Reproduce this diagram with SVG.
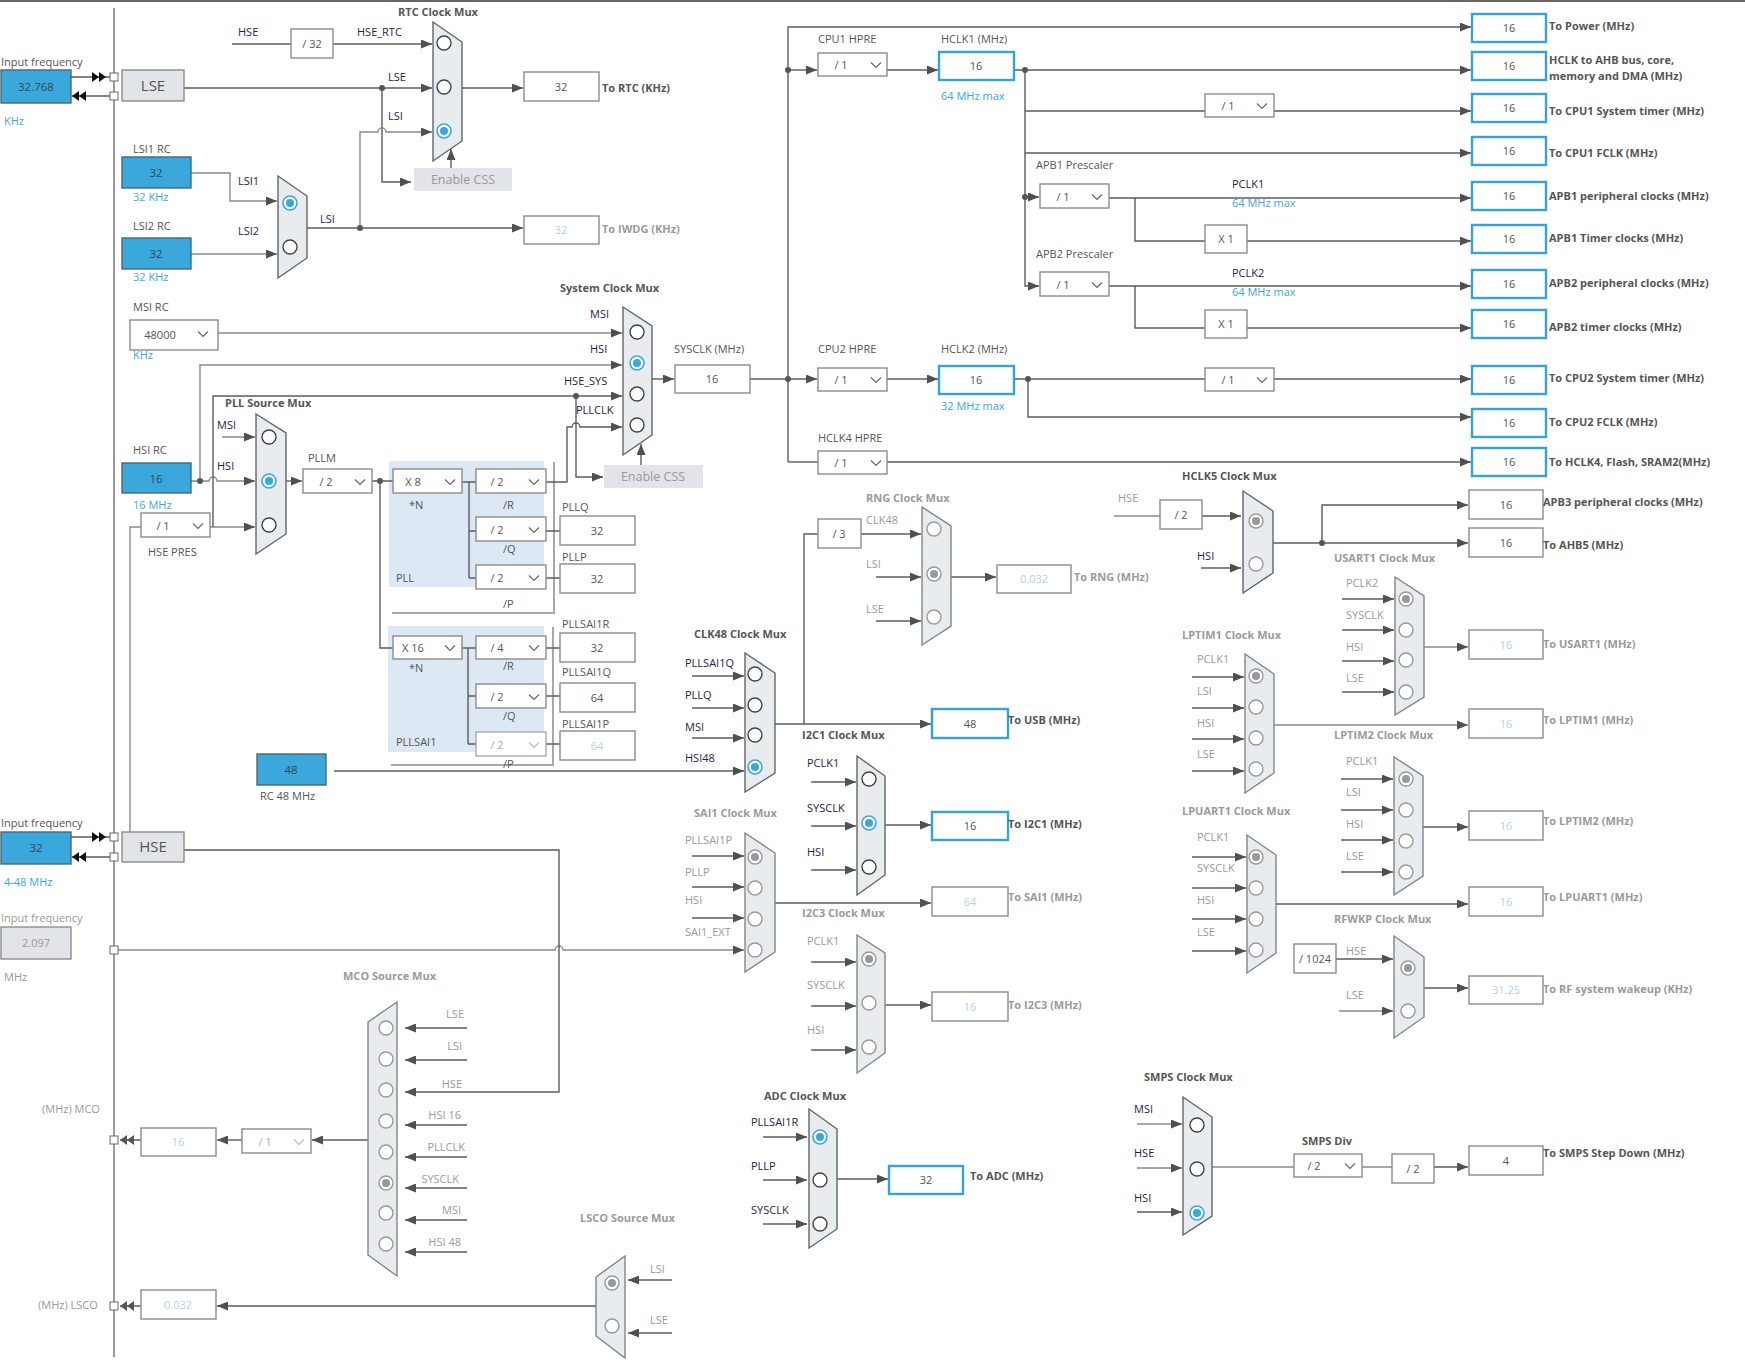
<svg xmlns="http://www.w3.org/2000/svg" width="1745" height="1362" viewBox="0 0 1745 1362" font-family="'Open Sans','Noto Sans',sans-serif">
<style>
.c{fill:none;stroke:#5c5c5c;stroke-width:1.4}
.cl{fill:none;stroke:#8a8a8a;stroke-width:1.4}
.a{marker-end:url(#a)}
.mux{fill:#e9ecef;stroke:#5d6770;stroke-width:1.4}
.muxg{fill:#e9ecef;stroke:#7d8790;stroke-width:1.4}
.bx{fill:#fff;stroke:#8c8c8c;stroke-width:1.4}
.ob{fill:#fff;stroke:#35a3d8;stroke-width:2.4}
.bi{fill:#3aa8db;stroke:#4d6577;stroke-width:1.4}
.gb{fill:#e1e4e8;stroke:#8c8c8c;stroke-width:1.4}
.css{fill:#e1e4e8}
.pll{fill:#dce9f5}
.fr{fill:none;stroke:#a8a8a8;stroke-width:2}
text{font-size:11px}
.t{fill:#555}
.n{fill:#1c2541}
.g{fill:#9a9a9a}
.b{fill:#3aa8db}
.h{fill:#555;font-weight:bold}
.hg{fill:#9a9a9a;font-weight:bold}
.v{fill:#555;text-anchor:middle}
.vf{fill:#b6d0e8;text-anchor:middle}
.vi{fill:#33495a;text-anchor:middle;font-size:11.5px}
.big{fill:#555;font-size:15px;text-anchor:middle}
.cs{fill:#9a9a9a;font-size:12.5px;text-anchor:middle}
.e{text-anchor:end}
.dot{fill:#555}
.pa{fill:#111}
</style>
<defs>
<marker id="a" markerWidth="11" markerHeight="9" refX="11" refY="4.5" orient="auto" markerUnits="userSpaceOnUse"><path d="M0,0L11,4.5L0,9z" fill="#505050"/></marker>
<circle id="r0" r="7" fill="#fff" stroke="#444" stroke-width="1.4"/>
<circle id="r1" r="7" fill="#fff" stroke="#999" stroke-width="1.4"/>
<g id="rb"><circle r="7" fill="#fff" stroke="#3aa8db" stroke-width="1.6"/><circle r="4" fill="#3aa8db"/></g>
<g id="rg"><circle r="7" fill="#fff" stroke="#999" stroke-width="1.4"/><circle r="4" fill="#999"/></g>
<path id="ch" d="M-5,-2.5L0,2.5L5,-2.5" fill="none" stroke="#666" stroke-width="1.2"/>
<path id="chf" d="M-5,-2.5L0,2.5L5,-2.5" fill="none" stroke="#bbb" stroke-width="1.2"/>
</defs>
<rect width="1745" height="1362" fill="#fff"/>
<path d="M0,1H1745" stroke="#666" stroke-width="2"/>
<path d="M114,8V1357" stroke="#9a9a9a" stroke-width="2"/>

<g id="pll-areas">
<rect class="pll" x="389" y="461" width="155" height="126"/>
<path class="fr" d="M554,462V613H392"/>
<rect class="pll" x="388" y="626" width="156" height="126"/>
<path class="fr" d="M553,627V765H391"/>
</g>

<g id="connectors">
<path class="c" d="M71,77H110M72,96H110M141,1140H120M141,1306H120"/>
<polygon class="pa" points="92,72 99,77 92,82"/><polygon class="pa" points="99,72 106,77 99,82"/>
<polygon class="pa" points="86,91 79,96 86,101"/><polygon class="pa" points="79,91 72,96 79,101"/>
<path class="c" d="M71,837H110M72,857H110"/>
<polygon class="pa" points="92,832 99,837 92,842"/><polygon class="pa" points="99,832 106,837 99,842"/>
<polygon class="pa" points="86,852 79,857 86,862"/><polygon class="pa" points="79,852 72,857 79,862"/>
<polygon fill="#555" points="127,1135 120,1140 127,1145"/><polygon fill="#555" points="134,1135 127,1140 134,1145"/>
<polygon fill="#555" points="127,1301 120,1306 127,1311"/><polygon fill="#555" points="134,1301 127,1306 134,1311"/>
<path class="c" d="M232,44H291"/>
<path class="c a" d="M333,44H432"/>
<path class="c a" d="M184,88H432"/>
<path class="c a" d="M382,88V182H411"/>
<path class="cl a" d="M360,228V132H378a4,4 0 0 1 8,0H432"/>
<path class="c a" d="M462,88H523"/>
<path class="cl a" d="M191,173H230V201H277"/>
<path class="cl a" d="M191,254H277"/>
<path class="c a" d="M307,228H523"/>
<path class="c a" d="M451,168V149"/>
<path class="cl a" d="M218,333H622"/>
<path class="cl a" d="M200,481V365H622"/>
<path class="cl a" d="M191,481H209a4,4 0 0 1 8,0H255"/>
<path class="cl a" d="M222,437H255"/>
<path class="cl" d="M130,832V527H141"/>
<path class="cl a" d="M210,527H255"/>
<path class="c a" d="M213,527V396H622"/>
<path class="c a" d="M576,396V477H603"/>
<path class="c a" d="M286,481H302"/>
<path class="c" d="M372,481H393M380,481V648H393"/>
<path class="c" d="M462,482H469V578M469,482H476M469,531H476M469,578H476"/>
<path class="c a" d="M546,482H567V427H572a4,4 0 0 1 8,0H622"/>
<path class="c" d="M546,531H560M546,578H560"/>
<path class="c" d="M462,648H476M468,648V744M468,696H476M468,744H476"/>
<path class="c" d="M546,648H560M546,696H560M546,744H560"/>
<path class="c a" d="M641,465V444"/>
<path class="c a" d="M652,379H674"/>
<path class="c a" d="M750,379H817"/>
<path class="c a" d="M788,462V27H1471"/>
<path class="c" d="M788,462H818"/>
<path class="c a" d="M788,70H817"/>
<path class="c a" d="M887,70H938"/>
<path class="c a" d="M887,379H938"/>
<path class="c a" d="M1014,70H1471"/>
<path class="c a" d="M1025,70V286H1039"/>
<path class="c" d="M1025,111H1205"/>
<path class="c a" d="M1274,111H1471"/>
<path class="c a" d="M1025,153H1471"/>
<path class="c a" d="M1025,197H1039"/>
<path class="c a" d="M1109,198H1471"/>
<path class="c" d="M1135,198V241H1205"/>
<path class="c a" d="M1247,241H1471"/>
<path class="c a" d="M1109,286H1471"/>
<path class="c" d="M1135,286V328H1205"/>
<path class="c a" d="M1247,328H1471"/>
<path class="c" d="M1014,379H1205"/>
<path class="c a" d="M1274,379H1471"/>
<path class="c a" d="M1028,379V417H1471"/>
<path class="c a" d="M887,462H1471"/>
<path class="c a" d="M334,771H744"/>
<path class="c a" d="M692,676H744"/>
<path class="c a" d="M692,708H744"/>
<path class="c a" d="M692,738H744"/>
<path class="c a" d="M775,724H931"/>
<path class="c" d="M804,724V534H818"/>
<path class="c a" d="M861,534H921"/>
<path class="c a" d="M876,577H921"/>
<path class="c a" d="M876,621H921"/>
<path class="c a" d="M951,577H996"/>
<path class="c a" d="M811,782H856"/>
<path class="c a" d="M811,826H856"/>
<path class="c a" d="M811,870H856"/>
<path class="c a" d="M885,825H931"/>
<path class="c a" d="M692,856H744"/>
<path class="c a" d="M692,887H744"/>
<path class="c a" d="M692,918H744"/>
<path class="cl a" d="M118,950H555a4,4 0 0 1 8,0H744"/>
<path class="c a" d="M775,903H931"/>
<path class="c a" d="M811,962H856"/>
<path class="c a" d="M811,1006H856"/>
<path class="c a" d="M811,1050H856"/>
<path class="c a" d="M885,1005H931"/>
<path class="c a" d="M184,850H559V1092H405"/>
<path class="c a" d="M467,1028H405"/>
<path class="c a" d="M467,1060H405"/>
<path class="c a" d="M467,1125H405"/>
<path class="c a" d="M467,1157H405"/>
<path class="c a" d="M467,1188H405"/>
<path class="c a" d="M467,1220H405"/>
<path class="c a" d="M467,1252H405"/>
<path class="c a" d="M368,1140H312"/>
<path class="c a" d="M242,1140H217"/>
<path class="c a" d="M672,1280H628"/>
<path class="c a" d="M672,1333H628"/>
<path class="c a" d="M596,1306H217"/>
<path class="c a" d="M763,1137H807"/>
<path class="c a" d="M763,1180H807"/>
<path class="c a" d="M763,1224H807"/>
<path class="c a" d="M837,1179H888"/>
<path class="cl" d="M1114,516H1160"/>
<path class="c a" d="M1202,516H1241"/>
<path class="c a" d="M1201,568H1241"/>
<path class="c a" d="M1273,543H1468"/>
<path class="c a" d="M1322,543V505H1468"/>
<path class="c a" d="M1192,677H1244"/>
<path class="c a" d="M1192,708H1244"/>
<path class="c a" d="M1192,739H1244"/>
<path class="c a" d="M1192,771H1244"/>
<path class="cl a" d="M1274,725H1468"/>
<path class="c a" d="M1342,599H1394"/>
<path class="c a" d="M1342,630H1394"/>
<path class="c a" d="M1342,661H1394"/>
<path class="c a" d="M1342,692H1394"/>
<path class="cl a" d="M1424,647H1468"/>
<path class="c a" d="M1341,779H1393"/>
<path class="c a" d="M1341,810H1393"/>
<path class="c a" d="M1341,840H1393"/>
<path class="c a" d="M1341,872H1393"/>
<path class="c a" d="M1423,827H1468"/>
<path class="c a" d="M1192,857H1246"/>
<path class="c a" d="M1192,888H1246"/>
<path class="c a" d="M1192,919H1246"/>
<path class="c a" d="M1192,951H1246"/>
<path class="c a" d="M1276,904H1468"/>
<path class="c a" d="M1336,959H1393"/>
<path class="cl a" d="M1339,1011H1393"/>
<path class="c a" d="M1424,988H1468"/>
<path class="cl a" d="M1137,1124H1182"/>
<path class="cl a" d="M1137,1168H1182"/>
<path class="c a" d="M1137,1212H1182"/>
<path class="cl" d="M1212,1167H1294M1362,1167H1392"/>
<path class="c a" d="M1434,1167H1468"/>
<circle class="dot" cx="382" cy="88" r="3"/><circle class="dot" cx="360" cy="228" r="3"/>
<circle class="dot" cx="200" cy="481" r="3"/><circle class="dot" cx="576" cy="396" r="3"/>
<circle class="dot" cx="380" cy="481" r="3"/><circle class="dot" cx="788" cy="70" r="3"/>
<circle class="dot" cx="788" cy="379" r="3"/><circle class="dot" cx="1025" cy="70" r="3"/>
<circle class="dot" cx="1025" cy="197" r="3"/><circle class="dot" cx="1028" cy="379" r="3"/>
<circle class="dot" cx="1322" cy="543" r="3"/>
</g>

<g id="in-lse">
<text class="t" x="1" y="66">Input frequency</text>
<rect class="bi" x="1" y="70" width="70" height="33"/>
<text class="vi" x="36" y="91">32.768</text>
<text class="b" x="4" y="125">KHz</text>
<rect x="110" y="73" width="8" height="8" fill="#fff" stroke="#666"/>
<rect x="110" y="92" width="8" height="8" fill="#fff" stroke="#666"/>
<rect class="gb" x="122" y="70" width="62" height="31"/>
<text class="big" x="153" y="91">LSE</text>
</g>
<g id="in-hse">
<text class="t" x="1" y="827">Input frequency</text>
<rect class="bi" x="1" y="832" width="70" height="32"/>
<text class="vi" x="36" y="852">32</text>
<text class="b" x="4" y="886">4-48 MHz</text>
<rect x="110" y="833" width="8" height="8" fill="#fff" stroke="#666"/>
<rect x="110" y="853" width="8" height="8" fill="#fff" stroke="#666"/>
<rect class="gb" x="122" y="832" width="62" height="30"/>
<text class="big" x="153" y="852">HSE</text>
</g>
<g id="in-ext">
<text class="g" x="1" y="922">Input frequency</text>
<rect class="gb" x="1" y="927" width="70" height="32"/>
<text class="v" x="36" y="947" style="fill:#999">2.097</text>
<text class="g" x="4" y="981">MHz</text>
<rect x="110" y="946" width="8" height="8" fill="#fff" stroke="#666"/>
</g>

<g id="rtc-mux">
<text class="h" x="398" y="16">RTC Clock Mux</text>
<text class="n" x="238" y="36">HSE</text>
<rect class="bx" x="291" y="29" width="42" height="29"/>
<text class="v" x="312" y="48">/ 32</text>
<text class="n" x="357" y="36">HSE_RTC</text>
<text class="n" x="388" y="81">LSE</text>
<text class="n" x="388" y="120">LSI</text>
<polygon class="mux" points="433,22 462,42 462,141 433,161"/>
<use href="#r0" x="444" y="43"/><use href="#r0" x="444" y="87"/><use href="#rb" x="444" y="131"/>
<rect class="css" x="414" y="168" width="98" height="23"/>
<text class="cs" x="463" y="184">Enable CSS</text>
<rect class="bx" x="524" y="72" width="75" height="29"/>
<text class="v" x="561" y="91">32</text>
<text class="h" x="602" y="92">To RTC (KHz)</text>
<rect class="bx" x="524" y="216" width="75" height="28"/>
<text class="vf" x="561" y="234">32</text>
<text class="hg" x="602" y="233">To IWDG (KHz)</text>
</g>

<g id="lsi-mux">
<text class="t" x="133" y="153">LSI1 RC</text>
<rect class="bi" x="122" y="157" width="69" height="31"/>
<text class="vi" x="156" y="177">32</text>
<text class="b" x="133" y="201">32 KHz</text>
<text class="t" x="133" y="230">LSI2 RC</text>
<rect class="bi" x="122" y="238" width="69" height="31"/>
<text class="vi" x="156" y="258">32</text>
<text class="b" x="133" y="281">32 KHz</text>
<text class="n" x="238" y="185">LSI1</text>
<text class="n" x="238" y="235">LSI2</text>
<polygon class="mux" points="278,176 307,196 307,258 278,278"/>
<use href="#rb" x="290" y="203"/><use href="#r0" x="290" y="247"/>
<text class="n" x="320" y="223">LSI</text>
</g>

<g id="msi-rc">
<text class="t" x="133" y="311">MSI RC</text>
<rect class="bx" x="130" y="320" width="88" height="30"/>
<text class="v" x="160" y="339">48000</text>
<use href="#ch" x="203" y="334"/>
<text class="b" x="133" y="359">KHz</text>
</g>

<g id="hsi-rc">
<text class="t" x="133" y="454">HSI RC</text>
<rect class="bi" x="122" y="463" width="69" height="30"/>
<text class="vi" x="156" y="483">16</text>
<text class="b" x="133" y="509">16 MHz</text>
</g>

<g id="pll-source-mux">
<text class="h" x="225" y="407">PLL Source Mux</text>
<text class="n" x="217" y="429">MSI</text>
<text class="n" x="217" y="470">HSI</text>
<polygon class="mux" points="256,414 286,433 286,534 256,554"/>
<use href="#r0" x="269" y="437"/><use href="#rb" x="269" y="481"/><use href="#r0" x="269" y="525"/>
<rect class="bx" x="141" y="513" width="69" height="24"/>
<text class="v" x="163" y="530">/ 1</text>
<use href="#ch" x="198" y="526"/>
<text class="t" x="148" y="556">HSE PRES</text>
<text class="t" x="308" y="462">PLLM</text>
<rect class="bx" x="303" y="469" width="69" height="24"/>
<text class="v" x="326" y="486">/ 2</text>
<use href="#ch" x="360" y="482"/>
</g>

<g id="pll">
<rect class="bx" x="393" y="469" width="69" height="24"/>
<text class="v" x="413" y="486">X 8</text><use href="#ch" x="450" y="482"/>
<text class="t" x="409" y="509">*N</text>
<rect class="bx" x="476" y="469" width="70" height="24"/>
<text class="v" x="497" y="486">/ 2</text><use href="#ch" x="534" y="482"/>
<text class="t" x="503" y="509">/R</text>
<rect class="bx" x="476" y="517" width="70" height="24"/>
<text class="v" x="497" y="534">/ 2</text><use href="#ch" x="534" y="530"/>
<text class="t" x="503" y="553">/Q</text>
<rect class="bx" x="476" y="565" width="70" height="24"/>
<text class="v" x="497" y="582">/ 2</text><use href="#ch" x="534" y="578"/>
<text class="t" x="503" y="608">/P</text>
<text class="t" x="396" y="582">PLL</text>
<text class="t" x="562" y="511">PLLQ</text>
<rect class="bx" x="560" y="516" width="75" height="29"/>
<text class="v" x="597" y="535">32</text>
<text class="t" x="562" y="561">PLLP</text>
<rect class="bx" x="560" y="564" width="75" height="29"/>
<text class="v" x="597" y="583">32</text>
</g>

<g id="pllsai1">
<rect class="bx" x="393" y="636" width="69" height="23"/>
<text class="v" x="413" y="652">X 16</text><use href="#ch" x="450" y="648"/>
<text class="t" x="409" y="672">*N</text>
<rect class="bx" x="476" y="636" width="70" height="23"/>
<text class="v" x="497" y="652">/ 4</text><use href="#ch" x="534" y="648"/>
<text class="t" x="503" y="670">/R</text>
<rect class="bx" x="476" y="684" width="70" height="24"/>
<text class="v" x="497" y="701">/ 2</text><use href="#ch" x="534" y="697"/>
<text class="t" x="503" y="720">/Q</text>
<rect class="bx" x="476" y="732" width="70" height="24" style="stroke:#aaa"/>
<text class="v" x="497" y="749" style="fill:#aaa">/ 2</text><use href="#chf" x="534" y="745"/>
<text class="t" x="503" y="768">/P</text>
<text class="t" x="396" y="746">PLLSAI1</text>
<text class="t" x="562" y="628">PLLSAI1R</text>
<rect class="bx" x="560" y="633" width="75" height="29"/>
<text class="v" x="597" y="652">32</text>
<text class="t" x="562" y="676">PLLSAI1Q</text>
<rect class="bx" x="560" y="683" width="75" height="29"/>
<text class="v" x="597" y="702">64</text>
<text class="t" x="562" y="728">PLLSAI1P</text>
<rect class="bx" x="560" y="731" width="75" height="29"/>
<text class="vf" x="597" y="750">64</text>
</g>

<g id="rc48">
<rect class="bi" x="257" y="754" width="69" height="31"/>
<text class="vi" x="291" y="774">48</text>
<text class="t" x="260" y="800">RC 48 MHz</text>
</g>

<g id="system-clock-mux">
<text class="h" x="560" y="292">System Clock Mux</text>
<text class="n" x="590" y="318">MSI</text>
<text class="n" x="590" y="353">HSI</text>
<text class="n" x="564" y="385">HSE_SYS</text>
<text class="n" x="576" y="414">PLLCLK</text>
<polygon class="mux" points="623,307 652,326 652,435 623,455"/>
<use href="#r0" x="637" y="332"/><use href="#rb" x="637" y="363"/><use href="#r0" x="637" y="394"/><use href="#r0" x="637" y="425"/>
<rect class="css" x="604" y="465" width="99" height="23"/>
<text class="cs" x="653" y="481">Enable CSS</text>
<text class="t" x="674" y="353">SYSCLK (MHz)</text>
<rect class="bx" x="675" y="365" width="75" height="28"/>
<text class="v" x="712" y="383">16</text>
</g>

<g id="cpu1">
<text class="t" x="818" y="43">CPU1 HPRE</text>
<rect class="bx" x="818" y="53" width="69" height="23"/>
<text class="v" x="841" y="69">/ 1</text><use href="#ch" x="876" y="65"/>
<text class="t" x="941" y="43">HCLK1 (MHz)</text>
<rect class="ob" x="939" y="52" width="75" height="28"/>
<text class="v" x="976" y="70">16</text>
<text class="b" x="941" y="100">64 MHz max</text>
<rect class="bx" x="1205" y="94" width="69" height="23"/>
<text class="v" x="1228" y="110">/ 1</text><use href="#ch" x="1262" y="106"/>
<text class="t" x="1036" y="169">APB1 Prescaler</text>
<rect class="bx" x="1040" y="184" width="69" height="24"/>
<text class="v" x="1063" y="201">/ 1</text><use href="#ch" x="1097" y="197"/>
<text class="n" x="1232" y="188">PCLK1</text>
<text class="b" x="1232" y="207">64 MHz max</text>
<rect class="bx" x="1205" y="225" width="42" height="28"/>
<text class="v" x="1226" y="243">X 1</text>
<text class="t" x="1036" y="258">APB2 Prescaler</text>
<rect class="bx" x="1040" y="272" width="69" height="24"/>
<text class="v" x="1063" y="289">/ 1</text><use href="#ch" x="1097" y="285"/>
<text class="n" x="1232" y="277">PCLK2</text>
<text class="b" x="1232" y="296">64 MHz max</text>
<rect class="bx" x="1205" y="310" width="42" height="28"/>
<text class="v" x="1226" y="328">X 1</text>
</g>

<g id="cpu2">
<text class="t" x="818" y="353">CPU2 HPRE</text>
<rect class="bx" x="818" y="368" width="69" height="23"/>
<text class="v" x="841" y="384">/ 1</text><use href="#ch" x="876" y="380"/>
<text class="t" x="941" y="353">HCLK2 (MHz)</text>
<rect class="ob" x="939" y="366" width="75" height="28"/>
<text class="v" x="976" y="384">16</text>
<text class="b" x="941" y="410">32 MHz max</text>
<rect class="bx" x="1205" y="368" width="69" height="23"/>
<text class="v" x="1228" y="384">/ 1</text><use href="#ch" x="1262" y="380"/>
<text class="t" x="818" y="442">HCLK4 HPRE</text>
<rect class="bx" x="818" y="451" width="69" height="23"/>
<text class="v" x="841" y="467">/ 1</text><use href="#ch" x="876" y="463"/>
</g>

<g id="outputs-ahb">
<rect class="ob" x="1472" y="14" width="74" height="28"/><text class="v" x="1509" y="32">16</text>
<text class="h" x="1549" y="30">To Power (MHz)</text>
<rect class="ob" x="1472" y="52" width="74" height="28"/><text class="v" x="1509" y="70">16</text>
<text class="h" x="1549" y="64">HCLK to AHB bus, core,</text>
<text class="h" x="1549" y="80">memory and DMA (MHz)</text>
<rect class="ob" x="1472" y="94" width="74" height="28"/><text class="v" x="1509" y="112">16</text>
<text class="h" x="1549" y="115">To CPU1 System timer (MHz)</text>
<rect class="ob" x="1472" y="137" width="74" height="28"/><text class="v" x="1509" y="155">16</text>
<text class="h" x="1549" y="157">To CPU1 FCLK (MHz)</text>
<rect class="ob" x="1472" y="182" width="74" height="28"/><text class="v" x="1509" y="200">16</text>
<text class="h" x="1549" y="200">APB1 peripheral clocks (MHz)</text>
<rect class="ob" x="1472" y="225" width="74" height="28"/><text class="v" x="1509" y="243">16</text>
<text class="h" x="1549" y="242">APB1 Timer clocks (MHz)</text>
<rect class="ob" x="1472" y="270" width="74" height="28"/><text class="v" x="1509" y="288">16</text>
<text class="h" x="1549" y="287">APB2 peripheral clocks (MHz)</text>
<rect class="ob" x="1472" y="310" width="74" height="28"/><text class="v" x="1509" y="328">16</text>
<text class="h" x="1549" y="331">APB2 timer clocks (MHz)</text>
<rect class="ob" x="1472" y="366" width="74" height="28"/><text class="v" x="1509" y="384">16</text>
<text class="h" x="1549" y="382">To CPU2 System timer (MHz)</text>
<rect class="ob" x="1472" y="409" width="74" height="28"/><text class="v" x="1509" y="427">16</text>
<text class="h" x="1549" y="426">To CPU2 FCLK (MHz)</text>
<rect class="ob" x="1472" y="448" width="74" height="28"/><text class="v" x="1509" y="466">16</text>
<text class="h" x="1549" y="466">To HCLK4, Flash, SRAM2(MHz)</text>
</g>

<g id="hclk5-mux">
<text class="h" x="1182" y="480">HCLK5 Clock Mux</text>
<text class="g" x="1118" y="502">HSE</text>
<rect class="bx" x="1160" y="500" width="42" height="29"/>
<text class="v" x="1181" y="519">/ 2</text>
<text class="n" x="1197" y="560">HSI</text>
<polygon class="mux" points="1243,491 1273,511 1273,573 1243,593"/>
<use href="#rg" x="1256" y="521"/><use href="#r1" x="1256" y="564"/>
<rect class="bx" x="1469" y="490" width="74" height="29"/><text class="v" x="1506" y="509">16</text>
<text class="h" x="1543" y="506">APB3 peripheral clocks (MHz)</text>
<rect class="bx" x="1469" y="528" width="74" height="29"/><text class="v" x="1506" y="547">16</text>
<text class="h" x="1543" y="549">To AHB5 (MHz)</text>
</g>

<g id="rng-mux">
<text class="hg" x="866" y="502">RNG Clock Mux</text>
<rect class="bx" x="818" y="519" width="43" height="29"/>
<text class="v" x="839" y="538">/ 3</text>
<text class="g" x="866" y="524">CLK48</text>
<text class="g" x="866" y="568">LSI</text>
<text class="g" x="866" y="613">LSE</text>
<polygon class="muxg" points="922,507 951,526 951,626 922,645"/>
<use href="#r1" x="934" y="529"/><use href="#rg" x="934" y="574"/><use href="#r1" x="934" y="617"/>
<rect class="bx" x="997" y="565" width="74" height="28"/><text class="vf" x="1034" y="583">0.032</text>
<text class="hg" x="1074" y="581">To RNG (MHz)</text>
</g>

<g id="clk48-mux">
<text class="h" x="694" y="638">CLK48 Clock Mux</text>
<text class="n" x="685" y="667">PLLSAI1Q</text>
<text class="n" x="685" y="699">PLLQ</text>
<text class="n" x="685" y="731">MSI</text>
<text class="n" x="685" y="762">HSI48</text>
<polygon class="mux" points="745,653 775,673 775,773 745,792"/>
<use href="#r0" x="755" y="674"/><use href="#r0" x="755" y="705"/><use href="#r0" x="755" y="735"/><use href="#rb" x="755" y="767"/>
<rect class="ob" x="932" y="709" width="76" height="29"/><text class="v" x="970" y="728">48</text>
<text class="h" x="1008" y="724">To USB (MHz)</text>
</g>

<g id="i2c1-mux">
<text class="h" x="802" y="739">I2C1 Clock Mux</text>
<text class="n" x="807" y="767">PCLK1</text>
<text class="n" x="807" y="812">SYSCLK</text>
<text class="n" x="807" y="856">HSI</text>
<polygon class="mux" points="857,756 885,776 885,875 857,895"/>
<use href="#r0" x="869" y="779"/><use href="#rb" x="869" y="823"/><use href="#r0" x="869" y="867"/>
<rect class="ob" x="932" y="812" width="76" height="28"/><text class="v" x="970" y="830">16</text>
<text class="h" x="1008" y="828">To I2C1 (MHz)</text>
</g>

<g id="sai1-mux">
<text class="hg" x="694" y="817">SAI1 Clock Mux</text>
<text class="g" x="685" y="844">PLLSAI1P</text>
<text class="g" x="685" y="876">PLLP</text>
<text class="g" x="685" y="904">HSI</text>
<text class="g" x="685" y="936">SAI1_EXT</text>
<polygon class="muxg" points="745,833 775,853 775,952 745,972"/>
<use href="#rg" x="755" y="857"/><use href="#r1" x="755" y="888"/><use href="#r1" x="755" y="919"/><use href="#r1" x="755" y="950"/>
<rect class="bx" x="932" y="887" width="76" height="29"/><text class="vf" x="970" y="906">64</text>
<text class="hg" x="1008" y="901">To SAI1 (MHz)</text>
</g>

<g id="i2c3-mux">
<text class="hg" x="802" y="917">I2C3 Clock Mux</text>
<text class="g" x="807" y="945">PCLK1</text>
<text class="g" x="807" y="989">SYSCLK</text>
<text class="g" x="807" y="1034">HSI</text>
<polygon class="muxg" points="857,935 885,953 885,1053 857,1073"/>
<use href="#rg" x="869" y="959"/><use href="#r1" x="869" y="1003"/><use href="#r1" x="869" y="1047"/>
<rect class="bx" x="932" y="992" width="76" height="29"/><text class="vf" x="970" y="1011">16</text>
<text class="hg" x="1008" y="1009">To I2C3 (MHz)</text>
</g>

<g id="adc-mux">
<text class="h" x="764" y="1100">ADC Clock Mux</text>
<text class="n" x="751" y="1126">PLLSAI1R</text>
<text class="n" x="751" y="1170">PLLP</text>
<text class="n" x="751" y="1214">SYSCLK</text>
<polygon class="mux" points="809,1109 837,1129 837,1229 809,1248"/>
<use href="#rb" x="820" y="1137"/><use href="#r0" x="820" y="1180"/><use href="#r0" x="820" y="1224"/>
<rect class="ob" x="889" y="1166" width="74" height="28"/><text class="v" x="926" y="1184">32</text>
<text class="h" x="970" y="1180">To ADC (MHz)</text>
</g>

<g id="lptim1-mux">
<text class="hg" x="1182" y="639">LPTIM1 Clock Mux</text>
<text class="g" x="1197" y="663">PCLK1</text>
<text class="g" x="1197" y="695">LSI</text>
<text class="g" x="1197" y="727">HSI</text>
<text class="g" x="1197" y="758">LSE</text>
<polygon class="muxg" points="1245,654 1274,674 1274,773 1245,793"/>
<use href="#rg" x="1256" y="676"/><use href="#r1" x="1256" y="707"/><use href="#r1" x="1256" y="738"/><use href="#r1" x="1256" y="769"/>
<rect class="bx" x="1469" y="709" width="74" height="29"/><text class="vf" x="1506" y="728">16</text>
<text class="hg" x="1543" y="724">To LPTIM1 (MHz)</text>
</g>

<g id="usart1-mux">
<text class="hg" x="1334" y="562">USART1 Clock Mux</text>
<text class="g" x="1346" y="587">PCLK2</text>
<text class="g" x="1346" y="619">SYSCLK</text>
<text class="g" x="1346" y="651">HSI</text>
<text class="g" x="1346" y="682">LSE</text>
<polygon class="muxg" points="1395,577 1424,596 1424,697 1395,715"/>
<use href="#rg" x="1406" y="599"/><use href="#r1" x="1406" y="630"/><use href="#r1" x="1406" y="660"/><use href="#r1" x="1406" y="692"/>
<rect class="bx" x="1469" y="630" width="74" height="29"/><text class="vf" x="1506" y="649">16</text>
<text class="hg" x="1543" y="648">To USART1 (MHz)</text>
</g>

<g id="lptim2-mux">
<text class="hg" x="1334" y="739">LPTIM2 Clock Mux</text>
<text class="g" x="1346" y="765">PCLK1</text>
<text class="g" x="1346" y="796">LSI</text>
<text class="g" x="1346" y="828">HSI</text>
<text class="g" x="1346" y="860">LSE</text>
<polygon class="muxg" points="1394,757 1423,776 1423,876 1394,895"/>
<use href="#rg" x="1406" y="779"/><use href="#r1" x="1406" y="810"/><use href="#r1" x="1406" y="841"/><use href="#r1" x="1406" y="872"/>
<rect class="bx" x="1469" y="811" width="74" height="29"/><text class="vf" x="1506" y="830">16</text>
<text class="hg" x="1543" y="825">To LPTIM2 (MHz)</text>
</g>

<g id="lpuart1-mux">
<text class="hg" x="1182" y="815">LPUART1 Clock Mux</text>
<text class="g" x="1197" y="841">PCLK1</text>
<text class="g" x="1197" y="872">SYSCLK</text>
<text class="g" x="1197" y="904">HSI</text>
<text class="g" x="1197" y="936">LSE</text>
<polygon class="muxg" points="1247,835 1276,855 1276,953 1247,973"/>
<use href="#rg" x="1256" y="857"/><use href="#r1" x="1256" y="888"/><use href="#r1" x="1256" y="919"/><use href="#r1" x="1256" y="950"/>
<rect class="bx" x="1469" y="887" width="74" height="29"/><text class="vf" x="1506" y="906">16</text>
<text class="hg" x="1543" y="901">To LPUART1 (MHz)</text>
</g>

<g id="rfwkp-mux">
<text class="hg" x="1334" y="923">RFWKP Clock Mux</text>
<rect class="bx" x="1294" y="944" width="42" height="29"/>
<text class="v" x="1315" y="963">/ 1024</text>
<text class="g" x="1346" y="955">HSE</text>
<text class="g" x="1346" y="999">LSE</text>
<polygon class="muxg" points="1394,936 1424,957 1424,1017 1394,1038"/>
<use href="#rg" x="1408" y="968"/><use href="#r1" x="1408" y="1011"/>
<rect class="bx" x="1469" y="976" width="74" height="28"/><text class="vf" x="1506" y="994">31.25</text>
<text class="hg" x="1543" y="993">To RF system wakeup (KHz)</text>
</g>

<g id="smps-mux">
<text class="h" x="1144" y="1081">SMPS Clock Mux</text>
<text class="n" x="1134" y="1113">MSI</text>
<text class="n" x="1134" y="1157">HSE</text>
<text class="n" x="1134" y="1202">HSI</text>
<polygon class="mux" points="1183,1097 1212,1117 1212,1216 1183,1235"/>
<use href="#r0" x="1197" y="1125"/><use href="#r0" x="1197" y="1169"/><use href="#rb" x="1197" y="1213"/>
<text class="h" x="1302" y="1145">SMPS Div</text>
<rect class="bx" x="1294" y="1154" width="68" height="23"/>
<text class="v" x="1314" y="1170">/ 2</text><use href="#ch" x="1350" y="1166"/>
<rect class="bx" x="1392" y="1154" width="42" height="29"/>
<text class="v" x="1413" y="1173">/ 2</text>
<rect class="bx" x="1469" y="1146" width="74" height="29"/><text class="v" x="1506" y="1165">4</text>
<text class="h" x="1543" y="1157">To SMPS Step Down (MHz)</text>
</g>

<g id="mco-mux">
<text class="hg" x="343" y="980">MCO Source Mux</text>
<polygon class="muxg" points="397,1002 368,1022 368,1255 397,1276"/>
<use href="#r1" x="386" y="1028"/><use href="#r1" x="386" y="1059"/><use href="#r1" x="386" y="1090"/><use href="#r1" x="386" y="1121"/>
<use href="#r1" x="386" y="1152"/><use href="#rg" x="386" y="1183"/><use href="#r1" x="386" y="1213"/><use href="#r1" x="386" y="1244"/>
<text class="g e" x="464" y="1018">LSE</text>
<text class="g e" x="462" y="1050">LSI</text>
<text class="g e" x="462" y="1088">HSE</text>
<text class="g e" x="461" y="1119">HSI 16</text>
<text class="g e" x="465" y="1151">PLLCLK</text>
<text class="g e" x="459" y="1183">SYSCLK</text>
<text class="g e" x="461" y="1214">MSI</text>
<text class="g e" x="461" y="1246">HSI 48</text>
<rect class="bx" x="242" y="1129" width="69" height="24"/>
<text class="v" x="265" y="1146" style="fill:#aaa">/ 1</text><use href="#chf" x="299" y="1142"/>
<rect class="bx" x="141" y="1128" width="75" height="28"/>
<text class="vf" x="178" y="1146">16</text>
<rect x="110" y="1136" width="8" height="8" fill="#fff" stroke="#666"/>
<text class="g" x="42" y="1113">(MHz) MCO</text>
</g>

<g id="lsco-mux">
<text class="hg" x="580" y="1222">LSCO Source Mux</text>
<polygon class="muxg" points="625,1256 596,1277 596,1336 625,1358"/>
<use href="#rg" x="612" y="1283"/><use href="#r1" x="612" y="1326"/>
<text class="g" x="650" y="1273">LSI</text>
<text class="g" x="650" y="1324">LSE</text>
<rect class="bx" x="141" y="1290" width="75" height="29"/>
<text class="vf" x="178" y="1309">0.032</text>
<rect x="110" y="1302" width="8" height="8" fill="#fff" stroke="#666"/>
<text class="g" x="38" y="1309">(MHz) LSCO</text>
</g>
</svg>
